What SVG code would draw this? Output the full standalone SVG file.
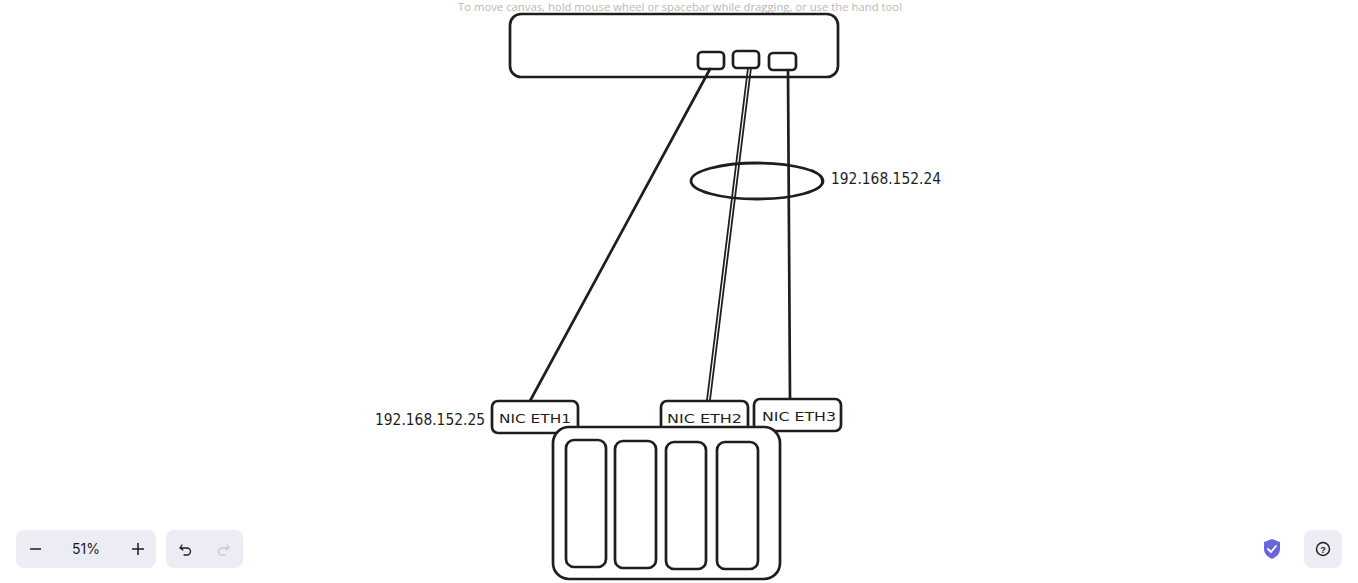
<svg xmlns="http://www.w3.org/2000/svg" width="1358" height="583" viewBox="0 0 1358 583">
<style>
.s{fill:none;stroke:#1e1e1e;stroke-width:2.7;stroke-linecap:round;stroke-linejoin:round}
.w{fill:#fff;stroke:#1e1e1e;stroke-width:2.7}
.t{font-family:"DejaVu Sans",sans-serif;font-size:15px;fill:#1e1e1e}
.nic{font-family:"DejaVu Sans",sans-serif;font-size:13px;fill:#1e1e1e}
.panel{fill:#ececf4}
.ui{font-family:"Inter","Liberation Sans",sans-serif;font-size:14px;fill:#1b1b1f}
</style>
<rect width="1358" height="583" fill="#fff"/>
<text x="680" y="11" text-anchor="middle" font-family="'Open Sans','Liberation Sans',sans-serif" font-size="11" fill="#b8b8b8" textLength="444" lengthAdjust="spacingAndGlyphs">To move canvas, hold mouse wheel or spacebar while dragging, or use the hand tool</text>

<g id="connectors">
<path class="s" d="M710 69 L530 401"/>
<path class="s" d="M748 68 L707 400 M751 68 L710 400" style="stroke-width:1.8"/>
<path class="s" d="M788 70 L790 398"/>
</g>

<g id="switch">
<rect class="s" x="510" y="14" width="328" height="63" rx="11"/>
<rect class="s" x="698" y="52" width="26" height="17" rx="4"/>
<rect class="s" x="733" y="51" width="26" height="17" rx="4"/>
<rect class="s" x="769" y="53" width="27" height="17" rx="4"/>
</g>

<g id="bond">
<ellipse class="s" cx="757" cy="181" rx="66" ry="18" style="stroke-width:2.8"/>
<path class="s" d="M812 170 C824 176 826 186 814 190" style="stroke-width:1.8"/>
<text class="t" x="831" y="184" textLength="110" lengthAdjust="spacingAndGlyphs">192.168.152.24</text>
</g>

<g id="eth1">
<rect class="w" x="492" y="401" width="86" height="32" rx="6"/>
<text class="nic" x="499" y="423" textLength="72" lengthAdjust="spacingAndGlyphs">NIC ETH1</text>
<text class="t" x="375" y="425" textLength="110" lengthAdjust="spacingAndGlyphs">192.168.152.25</text>
</g>
<g id="eth2">
<rect class="w" x="661" y="401" width="87" height="32" rx="6"/>
<text class="nic" x="667" y="423" textLength="75" lengthAdjust="spacingAndGlyphs">NIC ETH2</text>
</g>
<g id="eth3">
<rect class="w" x="754" y="399" width="87" height="32" rx="6"/>
<text class="nic" x="762" y="421" textLength="74" lengthAdjust="spacingAndGlyphs">NIC ETH3</text>
</g>

<g id="server">
<rect class="w" x="553" y="427" width="227" height="152" rx="16"/>
<rect class="s" x="566" y="440" width="40" height="127" rx="8"/>
<rect class="s" x="615" y="441" width="41" height="127" rx="8"/>
<rect class="s" x="666" y="442" width="40" height="127" rx="8"/>
<rect class="s" x="717" y="442" width="41" height="127" rx="8"/>
</g>

<g id="ui">
<rect class="panel" x="16" y="530" width="140" height="38" rx="8"/>
<path d="M30 549 H41" stroke="#1b1b1f" stroke-width="1.5"/>
<text class="ui" x="86" y="554" text-anchor="middle">51%</text>
<path d="M132 549 H144 M138 543 V555" stroke="#1b1b1f" stroke-width="1.5"/>
<rect class="panel" x="166" y="530" width="77" height="38" rx="8"/>
<path d="M182 545 L180 548 L183 550 M180 548 H187 A3.5 3.5 0 0 1 187 555 H184" fill="none" stroke="#1b1b1f" stroke-width="1.3" stroke-linecap="round" stroke-linejoin="round"/>
<path d="M227 545 L229 548 L226 550 M229 548 H222 A3.5 3.5 0 0 0 222 555 H225" fill="none" stroke="#c8c8cf" stroke-width="1.3" stroke-linecap="round" stroke-linejoin="round"/>
<path d="M1272 539 L1280 542 V549 C1280 554 1276 557 1272 559 C1268 557 1264 554 1264 549 V542 Z" fill="#6965db"/>
<path d="M1268 549 L1271 552 L1276 546" fill="none" stroke="#fff" stroke-width="1.8" stroke-linecap="round" stroke-linejoin="round"/>
<rect class="panel" x="1304" y="530" width="38" height="38" rx="8"/>
<circle cx="1323" cy="549" r="6.5" fill="none" stroke="#1b1b1f" stroke-width="1.4"/>
<text x="1323" y="552.5" text-anchor="middle" font-family="'Liberation Sans',sans-serif" font-size="9" font-weight="bold" fill="#1b1b1f">?</text>
</g>
</svg>
